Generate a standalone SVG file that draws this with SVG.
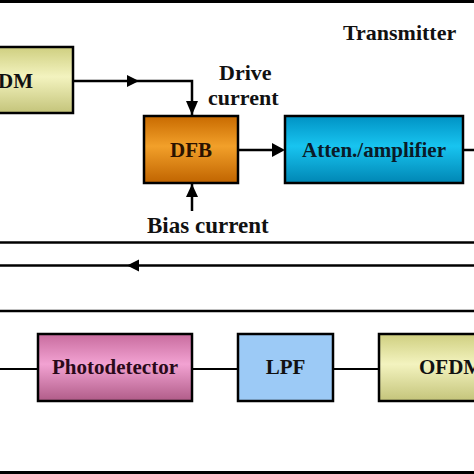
<svg xmlns="http://www.w3.org/2000/svg" width="474" height="474" viewBox="0 0 474 474">
<defs>
<linearGradient id="gy" x1="0" y1="0" x2="0" y2="1"><stop offset="0" stop-color="#cfcf80"/><stop offset="0.45" stop-color="#f3f3bf"/><stop offset="1" stop-color="#c4c47a"/></linearGradient>
<linearGradient id="go" x1="0" y1="0" x2="0" y2="1"><stop offset="0" stop-color="#c86a00"/><stop offset="0.45" stop-color="#f2a02a"/><stop offset="1" stop-color="#c06400"/></linearGradient>
<linearGradient id="gc" x1="0" y1="0" x2="0" y2="1"><stop offset="0" stop-color="#0092c4"/><stop offset="0.45" stop-color="#18c4f0"/><stop offset="1" stop-color="#0086b4"/></linearGradient>
<linearGradient id="gp" x1="0" y1="0" x2="0" y2="1"><stop offset="0" stop-color="#c86c9e"/><stop offset="0.45" stop-color="#f2a2d2"/><stop offset="1" stop-color="#b05c88"/></linearGradient>
</defs>
<style>
.box{stroke:#000;stroke-width:2.5}
.lbl{font-family:"Liberation Serif","Times New Roman",serif;font-weight:bold;font-size:21px;fill:#111;text-anchor:middle}
.txt{font-family:"Liberation Serif","Times New Roman",serif;font-weight:bold;font-size:23px;fill:#111}
.ln{stroke:#000;stroke-width:2.5;fill:none}
.thin{stroke:#000;stroke-width:2;fill:none}
.head{fill:#000}
</style>
<rect width="474" height="474" fill="#fff"/>
<g id="borders">
<rect x="0" y="0" width="474" height="3" fill="#000"/>
<rect x="0" y="471" width="474" height="3" fill="#000"/>
</g>
<g id="connectors">
<path class="ln" d="M73,81 H192 V115"/>
<path class="head" d="M127,75 L139,81 L127,87 z"/>
<path class="head" d="M186,101 L192,115 L198,101 z"/>
<path class="ln" d="M192,211 V184"/>
<path class="head" d="M186,197 L192,184 L198,197 z"/>
<path class="ln" d="M238,150 H273"/>
<path class="head" d="M272,143 L285,150 L272,157 z"/>
<path class="ln" d="M463,150 H474"/>
<path class="ln" d="M0,242.5 H474"/>
<path class="ln" d="M0,265.5 H474"/>
<path class="head" d="M139,259.5 L127,265.5 L139,271.5 z"/>
<path class="ln" d="M0,311 H474"/>
<path class="thin" d="M0,369 H38"/>
<path class="thin" d="M192,369 H238"/>
<path class="thin" d="M333,369 H379"/>
</g>
<g id="ofdm-tx">
<rect class="box" x="-20" y="47" width="93" height="66" fill="url(#gy)"/>
<text class="txt" x="33" y="88" style="font-size:21px;text-anchor:end">DM</text>
</g>
<g id="dfb">
<rect class="box" x="144" y="116" width="94" height="67" fill="url(#go)"/>
<text class="lbl" x="191" y="157" style="fill:#2a1200">DFB</text>
</g>
<g id="atten">
<rect class="box" x="285" y="116" width="178" height="67" fill="url(#gc)"/>
<text class="lbl" x="374" y="157" style="fill:#0a1a28">Atten./amplifier</text>
</g>
<g id="photodetector">
<rect class="box" x="38" y="334" width="154" height="67" fill="url(#gp)"/>
<text class="lbl" x="115" y="374" style="fill:#2a0a1a">Photodetector</text>
</g>
<g id="lpf">
<rect class="box" x="238" y="334" width="95" height="67" fill="#9ccaf6"/>
<text class="lbl" x="285.5" y="374">LPF</text>
</g>
<g id="ofdm-rx">
<rect class="box" x="379" y="334" width="110" height="67" fill="url(#gy)"/>
<text class="lbl" x="419" y="374" style="text-anchor:start">OFDM</text>
</g>
<g id="labels">
<text class="txt" x="343" y="40" style="font-size:22px">Transmitter</text>
<text class="txt" x="219" y="80" style="font-size:22px">Drive</text>
<text class="txt" x="208" y="104.5" style="font-size:22px">current</text>
<text class="txt" x="147" y="233">Bias current</text>
</g>
</svg>
